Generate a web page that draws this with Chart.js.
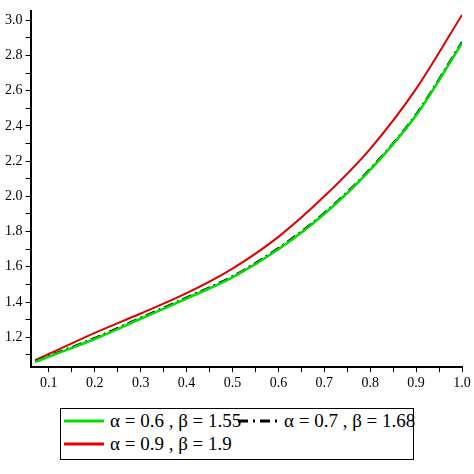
<!DOCTYPE html>
<html><head><meta charset="utf-8">
<script src="https://cdn.jsdelivr.net/npm/chart.js"></script>
<style>
html,body{margin:0;padding:0;background:#fff;width:474px;height:474px;overflow:hidden;font-family:"Liberation Serif",serif}
#wrap{position:absolute;left:0;top:0;width:474px;height:395px}
#leg{position:absolute;left:60px;top:408px;width:354px;height:52px;border:1.5px solid #000;box-sizing:border-box;font-size:19px;color:#000}
.it{position:absolute;display:flex;align-items:center;white-space:nowrap}
svg{margin-right:6px}
</style></head><body>
<div id="wrap"><canvas id="c" width="474" height="395"></canvas></div>
<div id="leg">
<div class="it" style="left:3px;top:1px"><svg width="40" height="6"><line x1="0" y1="3" x2="40" y2="3" stroke="#00e000" stroke-width="3"/></svg>α = 0.6 , β = 1.55</div>
<div class="it" style="left:177px;top:1px"><svg width="40" height="6"><line x1="0" y1="3" x2="40" y2="3" stroke="#000" stroke-width="3" stroke-dasharray="10,5,2,5"/></svg>α = 0.7 , β = 1.68</div>
<div class="it" style="left:3px;top:24px"><svg width="40" height="6"><line x1="0" y1="3" x2="40" y2="3" stroke="#e00000" stroke-width="3"/></svg>α = 0.9 , β = 1.9</div>
</div>
<script>
const xs = [0.07,0.1,0.2,0.3,0.4,0.5,0.6,0.7,0.8,0.9,1.0];
const green = [1.06,1.09,1.19,1.305,1.42,1.54,1.70,1.90,2.15,2.46,2.87];
const black = [1.062,1.093,1.195,1.31,1.425,1.545,1.705,1.905,2.155,2.465,2.875];
const red = [1.07,1.105,1.225,1.335,1.45,1.59,1.77,2.0,2.27,2.61,3.03];
const xTicks = [0.1,0.2,0.3,0.4,0.5,0.6,0.7,0.8,0.9,1.0];
const yTicks = [1.2,1.4,1.6,1.8,2.0,2.2,2.4,2.6,2.8,3.0];
const pts = a => xs.map((x,i)=>({x:x,y:a[i]}));
const font = {family:"Liberation Serif",size:14};
new Chart(document.getElementById('c'),{
 type:'line',
 data:{datasets:[
  {data:pts(green),borderColor:'#00e000',borderWidth:2.5,cubicInterpolationMode:'monotone',pointRadius:0},
  {data:pts(black),borderColor:'#000',borderWidth:2.5,borderDash:[10,4,2,4],cubicInterpolationMode:'monotone',pointRadius:0},
  {data:pts(red),borderColor:'#e00000',borderWidth:2,cubicInterpolationMode:'monotone',pointRadius:0}
 ]},
 options:{responsive:false,animation:false,
  layout:{padding:{left:2,right:12,top:8,bottom:0}},
  plugins:{legend:{display:false},tooltip:{enabled:false}},
  scales:{
   x:{type:'linear',min:0.06,max:1.0,
    afterBuildTicks:s=>{const t=[];for(let v=0.1;v<=1.001;v+=0.05)t.push({value:+v.toFixed(2)});s.ticks=t;},
    ticks:{color:'#000',font:font,maxRotation:0,autoSkip:false,callback:v=>xTicks.some(t=>Math.abs(t-v)<1e-6)?v.toFixed(1):''},
    grid:{drawOnChartArea:false,color:'#000',tickLength:5},border:{color:'#000',width:2}},
   y:{min:1.03,max:3.05,
    afterBuildTicks:s=>{const t=[];for(let v=1.1;v<=3.001;v+=0.1)t.push({value:+v.toFixed(2)});s.ticks=t;},
    ticks:{color:'#000',font:font,autoSkip:false,callback:v=>yTicks.some(t=>Math.abs(t-v)<1e-6)?v.toFixed(1):''},
    grid:{drawOnChartArea:false,color:'#000',tickLength:5},border:{color:'#000',width:2}}
  }}
});
</script>
</body></html>
